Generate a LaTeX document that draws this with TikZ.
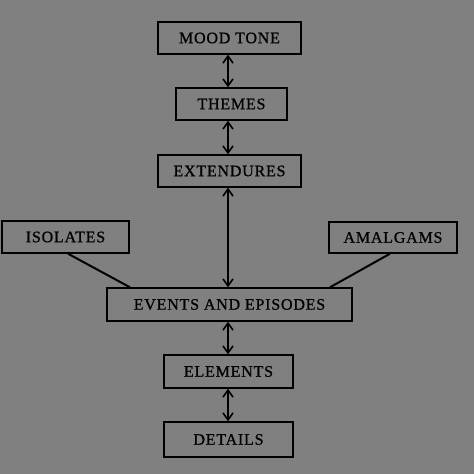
\documentclass[tikz,border=0pt]{standalone}
\usepackage{fontspec}
\setmainfont[LetterSpace=5,FakeBold=0.8]{Liberation Serif}
\usetikzlibrary{arrows.meta}
\begin{document}
\begin{tikzpicture}[x=1pt,y=-1pt,
  box/.style={draw=black,line width=1.4pt,rectangle,inner sep=0pt,
    font=\fontsize{16}{18}\selectfont,text=black},
  link/.style={draw=black,line width=2pt},
  biarrow/.style={link,{Straight Barb[length=7pt,width=10pt,line width=1.6pt]}-{Straight Barb[length=7pt,width=10pt,line width=1.6pt]}}]
\fill[fill={rgb,255:red,128;green,128;blue,128}] (0,0) rectangle (474,474);
\useasboundingbox (0,0) rectangle (474,474);
\node[box,minimum width=143pt,minimum height=32pt] (mood) at (229.5,38) {MOOD TONE};
\node[box,minimum width=111pt,minimum height=32pt] (themes) at (231.5,104) {THEMES};
\node[box,minimum width=143pt,minimum height=32pt] (ext) at (229.5,171) {EXTENDURES};
\node[box,minimum width=127pt,minimum height=32pt] (iso) at (65.5,237) {ISOLATES};
\node[box,minimum width=128pt,minimum height=31pt] (amal) at (393,237.5) {AMALGAMS};
\node[box,minimum width=245pt,minimum height=33pt] (events) at (229.5,304.5) {EVENTS AND EPISODES};
\node[box,minimum width=129pt,minimum height=33pt] (elem) at (228.5,371.5) {ELEMENTS};
\node[box,minimum width=129pt,minimum height=35pt] (det) at (228.5,439.5) {DETAILS};
\draw[biarrow] (mood.south -| 228,0) -- (themes.north -| 228,0);
\draw[biarrow] (themes.south -| 228,0) -- (ext.north -| 228,0);
\draw[biarrow] (ext.south -| 228,0) -- (events.north -| 228,0);
\draw[biarrow] (events.south -| 228,0) -- (elem.north -| 228,0);
\draw[biarrow] (elem.south -| 228,0) -- (det.north -| 228,0);
\draw[link] (iso.south -| 68,0) -- (events.north -| 130,0);
\draw[link] (amal.south -| 390,0) -- (events.north -| 330,0);
\end{tikzpicture}
\end{document}
